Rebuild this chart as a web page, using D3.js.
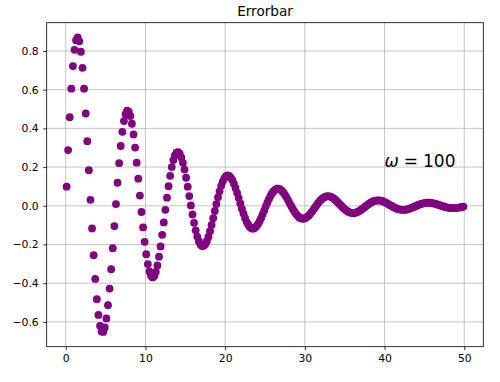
<!DOCTYPE html>
<html>
<head>
<meta charset="utf-8">
<script src="https://cdn.jsdelivr.net/npm/d3@7"></script>
<style>
  html, body { margin: 0; padding: 0; background: #fff; }
  svg { display: block; font-family: "DejaVu Sans", sans-serif; }
</style>
</head>
<body>
<div id="chart"></div>
<script>
// values
const xValues = [
  0.1, 0.3, 0.5, 0.7, 0.9, 1.1, 1.3, 1.5, 1.7, 1.9,
  2.1, 2.3, 2.5, 2.7, 2.9, 3.1, 3.3, 3.5, 3.7, 3.9,
  4.1, 4.3, 4.5, 4.7, 4.9, 5.1, 5.3, 5.5, 5.7, 5.9,
  6.1, 6.3, 6.5, 6.7, 6.9, 7.1, 7.3, 7.5, 7.7, 7.9,
  8.1, 8.3, 8.5, 8.7, 8.9, 9.1, 9.3, 9.5, 9.7, 9.9,
  10.1, 10.3, 10.5, 10.7, 10.9, 11.1, 11.3, 11.5, 11.7, 11.9,
  12.1, 12.3, 12.5, 12.7, 12.9, 13.1, 13.3, 13.5, 13.7, 13.9,
  14.1, 14.3, 14.5, 14.7, 14.9, 15.1, 15.3, 15.5, 15.7, 15.9,
  16.1, 16.3, 16.5, 16.7, 16.9, 17.1, 17.3, 17.5, 17.7, 17.9,
  18.1, 18.3, 18.5, 18.7, 18.9, 19.1, 19.3, 19.5, 19.7, 19.9,
  20.1, 20.3, 20.5, 20.7, 20.9, 21.1, 21.3, 21.5, 21.7, 21.9,
  22.1, 22.3, 22.5, 22.7, 22.9, 23.1, 23.3, 23.5, 23.7, 23.9,
  24.1, 24.3, 24.5, 24.7, 24.9, 25.1, 25.3, 25.5, 25.7, 25.9,
  26.1, 26.3, 26.5, 26.7, 26.9, 27.1, 27.3, 27.5, 27.7, 27.9,
  28.1, 28.3, 28.5, 28.7, 28.9, 29.1, 29.3, 29.5, 29.7, 29.9,
  30.1, 30.3, 30.5, 30.7, 30.9, 31.1, 31.3, 31.5, 31.7, 31.9,
  32.1, 32.3, 32.5, 32.7, 32.9, 33.1, 33.3, 33.5, 33.7, 33.9,
  34.1, 34.3, 34.5, 34.7, 34.9, 35.1, 35.3, 35.5, 35.7, 35.9,
  36.1, 36.3, 36.5, 36.7, 36.9, 37.1, 37.3, 37.5, 37.7, 37.9,
  38.1, 38.3, 38.5, 38.7, 38.9, 39.1, 39.3, 39.5, 39.7, 39.9,
  40.1, 40.3, 40.5, 40.7, 40.9, 41.1, 41.3, 41.5, 41.7, 41.9,
  42.1, 42.3, 42.5, 42.7, 42.9, 43.1, 43.3, 43.5, 43.7, 43.9,
  44.1, 44.3, 44.5, 44.7, 44.9, 45.1, 45.3, 45.5, 45.7, 45.9,
  46.1, 46.3, 46.5, 46.7, 46.9, 47.1, 47.3, 47.5, 47.7, 47.9,
  48.1, 48.3, 48.5, 48.7, 48.9, 49.1, 49.3, 49.5, 49.7, 49.9
];

const yValues = [
  // 0.1 - 6.1
  0.099, 0.288, 0.458, 0.605, 0.722, 0.806, 0.856, 0.870, 0.850, 0.796,
  0.713, 0.605, 0.477, 0.334, 0.184, 0.031, -0.117, -0.255, -0.378, -0.483,
  -0.564, -0.620, -0.649, -0.652, -0.629, -0.582, -0.514, -0.428, -0.328, -0.219,
  -0.105,
  // 6.3 - 12.5
  0.009, 0.119, 0.220, 0.309, 0.382, 0.438, 0.474, 0.491, 0.487, 0.464,
  0.424, 0.369, 0.301, 0.223, 0.140, 0.053, -0.032, -0.112, -0.186, -0.250,
  -0.301, -0.339, -0.362, -0.370, -0.363, -0.342, -0.308, -0.263, -0.210, -0.150,
  -0.086, -0.021,
  // 12.7 - 18.7
  0.042, 0.101, 0.155, 0.200, 0.236, 0.261, 0.275, 0.277, 0.269, 0.250,
  0.222, 0.187, 0.145, 0.099, 0.050, 0.002, -0.045, -0.088, -0.127, -0.159,
  -0.183, -0.200, -0.208, -0.207, -0.199, -0.183, -0.160, -0.131, -0.099, -0.064,
  -0.027,
  // 18.9 - 25.1
  0.009, 0.044, 0.075, 0.103, 0.125, 0.142, 0.153, 0.157, 0.155, 0.146,
  0.133, 0.114, 0.092, 0.067, 0.040, 0.012, -0.015, -0.040, -0.063, -0.083,
  -0.098, -0.110, -0.116, -0.118, -0.115, -0.107, -0.096, -0.081, -0.064, -0.044,
  -0.024, -0.003,
  // 25.3 - 31.3
  0.017, 0.035, 0.052, 0.066, 0.077, 0.084, 0.088, 0.088, 0.085, 0.078,
  0.069, 0.057, 0.044, 0.029, 0.013, -0.002, -0.017, -0.030, -0.042, -0.052,
  -0.060, -0.064, -0.067, -0.066, -0.063, -0.057, -0.050, -0.040, -0.030, -0.018,
  -0.007,
  // 31.5 - 37.5
  0.005, 0.016, 0.026, 0.034, 0.041, 0.046, 0.049, 0.050, 0.049, 0.046,
  0.041, 0.035, 0.028, 0.020, 0.011, 0.003, -0.006, -0.014, -0.021, -0.027,
  -0.032, -0.035, -0.037, -0.038, -0.036, -0.034, -0.030, -0.025, -0.019, -0.013,
  -0.007,
  // 37.7 - 43.9
  0.000, 0.006, 0.012, 0.017, 0.022, 0.025, 0.027, 0.028, 0.028, 0.027,
  0.025, 0.021, 0.018, 0.013, 0.008, 0.003, -0.001, -0.006, -0.010, -0.014,
  -0.017, -0.019, -0.021, -0.021, -0.021, -0.020, -0.018, -0.015, -0.012, -0.009,
  -0.005, -0.002,
  // 44.1 - 49.9
  0.002, 0.006, 0.009, 0.011, 0.013, 0.015, 0.016, 0.016, 0.016, 0.015,
  0.013, 0.011, 0.009, 0.006, 0.003, 0.000, -0.002, -0.005, -0.007, -0.009,
  -0.010, -0.011, -0.012, -0.012, -0.011, -0.011, -0.009, -0.008, -0.006, -0.004
];

const xTicks = [0, 10, 20, 30, 40, 50];
const yTicks = [-0.6, -0.4, -0.2, 0.0, 0.2, 0.4, 0.6, 0.8];
const titleText = 'Errorbar';
const noteX = 40, noteY = 0.2;

const width = 500, height = 382;
const margin = { top: 22.7, right: 16.7, bottom: 35.3, left: 46.7 };
const innerW = width - margin.left - margin.right;
const innerH = height - margin.top - margin.bottom;

const points = xValues.map((x, i) => ({ x, y: yValues[i] }));

const svg = d3.select('#chart').append('svg')
  .attr('width', width)
  .attr('height', height);

const g = svg.append('g')
  .attr('transform', `translate(${margin.left},${margin.top})`);

// matplotlib style 5% margins
const pad = (ext) => { const d = (ext[1] - ext[0]) * 0.05; return [ext[0] - d, ext[1] + d]; };
const x = d3.scaleLinear().domain(pad(d3.extent(xValues))).range([0, innerW]);
const y = d3.scaleLinear().domain(pad(d3.extent(yValues))).range([innerH, 0]);

// grid
g.append('g')
  .selectAll('line')
  .data(xTicks)
  .join('line')
  .attr('x1', d => x(d)).attr('x2', d => x(d))
  .attr('y1', 0).attr('y2', innerH)
  .attr('stroke', '#b0b0b0').attr('stroke-width', 0.9).attr('opacity', 0.8);

g.append('g')
  .selectAll('line')
  .data(yTicks)
  .join('line')
  .attr('x1', 0).attr('x2', innerW)
  .attr('y1', d => y(d)).attr('y2', d => y(d))
  .attr('stroke', '#b0b0b0').attr('stroke-width', 0.9).attr('opacity', 0.8);

// markers
g.append('g')
  .selectAll('circle')
  .data(points)
  .join('circle')
  .attr('cx', d => x(d.x))
  .attr('cy', d => y(d.y))
  .attr('r', 3.9)
  .attr('fill', '#800080');

// axes
const fmtY = d => d3.format('.1f')(d).replace('-', '\u2212');

const xAxis = g.append('g')
  .attr('transform', `translate(0,${innerH})`)
  .call(d3.axisBottom(x).tickValues(xTicks).tickSize(3.5).tickPadding(4.5).tickFormat(d3.format('d')));

const yAxis = g.append('g')
  .call(d3.axisLeft(y).tickValues(yTicks).tickSize(3.5).tickPadding(4.5).tickFormat(fmtY));

[xAxis, yAxis].forEach(ax => {
  ax.select('.domain').remove();
  ax.selectAll('line').attr('stroke', '#000').attr('stroke-width', 0.8);
  ax.selectAll('text')
    .attr('fill', '#000')
    .style('font-family', '"DejaVu Sans", sans-serif')
    .style('font-size', '10.8px');
});

// frame
g.append('rect')
  .attr('x', 0).attr('y', 0)
  .attr('width', innerW).attr('height', innerH)
  .attr('fill', 'none')
  .attr('stroke', '#000')
  .attr('stroke-width', 0.8);

// title
svg.append('text')
  .attr('x', margin.left + innerW / 2)
  .attr('y', 16)
  .attr('text-anchor', 'middle')
  .style('font-size', '13.6px')
  .text(titleText);

// annotation
const note = g.append('text')
  .attr('x', x(noteX))
  .attr('y', y(noteY))
  .style('font-size', '17px');
note.append('tspan').style('font-style', 'italic').text('\u03c9');
note.append('tspan').attr('dx', 5).text('=');
note.append('tspan').attr('dx', 5).text('100');
</script>
</body>
</html>
